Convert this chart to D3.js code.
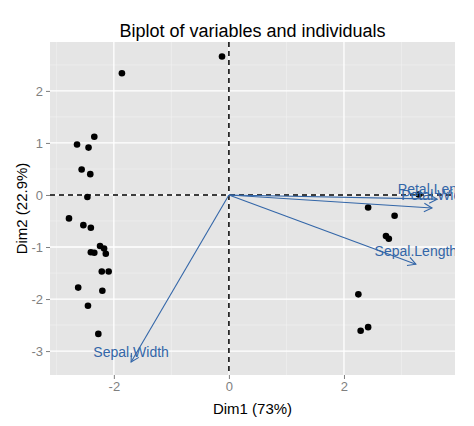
<!DOCTYPE html>
<html><head><meta charset="utf-8">
<script src="https://cdn.jsdelivr.net/npm/d3@7"></script>
<style>body{margin:0;background:#fff}text{font-family:"Liberation Sans",Arial,sans-serif}</style>
</head><body>
<script>
var indX = [-1.86,-0.12,-2.34,-2.64,-2.44,-2.56,-2.41,-2.46,-2.78,-2.53,-2.40,-2.24,-2.17,-2.40,-2.34,-2.14,-2.21,-2.09,-2.62,-2.20,-2.45,-2.27,3.30,2.42,2.88,2.73,2.78,2.25,2.42,2.29];
var indY = [2.34,2.66,1.12,0.97,0.91,0.49,0.40,-0.04,-0.45,-0.58,-0.63,-0.98,-1.03,-1.10,-1.11,-1.13,-1.47,-1.47,-1.78,-1.84,-2.13,-2.67,0.01,-0.24,-0.40,-0.79,-0.84,-1.91,-2.54,-2.61];
var varNames = ["Sepal.Length","Sepal.Width","Petal.Length","Petal.Width"];
var varX = [3.25,-1.70,3.62,3.53];
var varY = [-1.33,-3.21,-0.08,-0.25];
var labX = [3.25,-1.70,3.62,3.62];
var labY = [-1.07,-3.02,0.12,-0.01];
var xTicks = [-2,0,2];
var yTicks = [-3,-2,-1,0,1,2];

var W = 474, H = 426, m = {l:50, r:19, t:42, b:51};
var svg = d3.select("body").append("svg").attr("width",W).attr("height",H);
var x = d3.scaleLinear().domain([-3.11,3.93]).range([m.l, W-m.r]);
var y = d3.scaleLinear().domain([-3.46,2.94]).range([H-m.b, m.t]);

svg.append("defs").append("clipPath").attr("id","clip").append("rect")
  .attr("x",x.range()[0]).attr("y",m.t).attr("width",x.range()[1]-x.range()[0]).attr("height",H-m.b-m.t);
svg.append("rect").attr("x",x.range()[0]).attr("y",m.t)
  .attr("width",x.range()[1]-x.range()[0]).attr("height",H-m.b-m.t).attr("fill","#e5e5e5");

var g = svg.append("g").attr("clip-path","url(#clip)");
// grid
[-3,-1,1,3].forEach(function(v){g.append("line").attr("x1",x(v)).attr("x2",x(v)).attr("y1",m.t).attr("y2",H-m.b).attr("stroke","#f2f2f2").attr("stroke-width",0.6);});
[-2.5,-1.5,-0.5,0.5,1.5,2.5].forEach(function(v){g.append("line").attr("y1",y(v)).attr("y2",y(v)).attr("x1",m.l).attr("x2",W-m.r).attr("stroke","#f2f2f2").attr("stroke-width",0.6);});
xTicks.forEach(function(v){g.append("line").attr("x1",x(v)).attr("x2",x(v)).attr("y1",m.t).attr("y2",H-m.b).attr("stroke","#fff").attr("stroke-width",1.3);});
yTicks.forEach(function(v){g.append("line").attr("y1",y(v)).attr("y2",y(v)).attr("x1",m.l).attr("x2",W-m.r).attr("stroke","#fff").attr("stroke-width",1.3);});
// zero lines
g.append("line").attr("x1",x(0)).attr("x2",x(0)).attr("y1",m.t).attr("y2",H-m.b).attr("stroke","#000").attr("stroke-width",1.5).attr("stroke-dasharray","5,4");
g.append("line").attr("y1",y(0)).attr("y2",y(0)).attr("x1",m.l).attr("x2",W-m.r).attr("stroke","#000").attr("stroke-width",1.5).attr("stroke-dasharray","5,4");
// points
g.selectAll("circle").data(indX).enter().append("circle")
  .attr("cx",function(d){return x(d);}).attr("cy",function(d,i){return y(indY[i]);}).attr("r",3.3).attr("fill","#000");
// arrows
var col = "#3366a8";
varNames.forEach(function(n,i){
  var x0=x(0),y0=y(0),x1=x(varX[i]),y1=y(varY[i]);
  var a=Math.atan2(y1-y0,x1-x0), L=9, s=0.5;
  g.append("line").attr("x1",x0).attr("y1",y0).attr("x2",x1).attr("y2",y1).attr("stroke",col).attr("stroke-width",1.1);
  g.append("path").attr("d","M"+(x1-L*Math.cos(a-s))+","+(y1-L*Math.sin(a-s))+"L"+x1+","+y1+"L"+(x1-L*Math.cos(a+s))+","+(y1-L*Math.sin(a+s)))
    .attr("fill","none").attr("stroke",col).attr("stroke-width",1.1);
  g.append("text").attr("x",x(labX[i])).attr("y",y(labY[i])).attr("text-anchor","middle").attr("dy","0.35em")
    .attr("font-size",14).attr("fill",col).text(n);
});

// axes
var fmt = function(d){return String(d);};
var xa = svg.append("g").attr("transform","translate(0,"+(H-m.b)+")")
  .call(d3.axisBottom(x).tickValues(xTicks).tickFormat(fmt).tickSize(4).tickPadding(3));
var ya = svg.append("g").attr("transform","translate("+m.l+",0)")
  .call(d3.axisLeft(y).tickValues(yTicks).tickFormat(fmt).tickSize(4).tickPadding(3));
[xa,ya].forEach(function(a){
  a.select(".domain").remove();
  a.selectAll("line").attr("stroke","#7f7f7f");
  a.selectAll("text").attr("font-size",13).attr("fill","#7f7f7f");
});
svg.append("text").attr("x",(m.l+W-m.r)/2).attr("y",H-12).attr("text-anchor","middle").attr("font-size",15).text("Dim1 (73%)");
svg.append("text").attr("transform","translate(27,"+((m.t+H-m.b)/2)+") rotate(-90)").attr("text-anchor","middle").attr("font-size",15).text("Dim2 (22.9%)");
svg.append("text").attr("x",(m.l+W-m.r)/2).attr("y",37).attr("text-anchor","middle").attr("font-size",18).text("Biplot of variables and individuals");
</script>
</body></html>
